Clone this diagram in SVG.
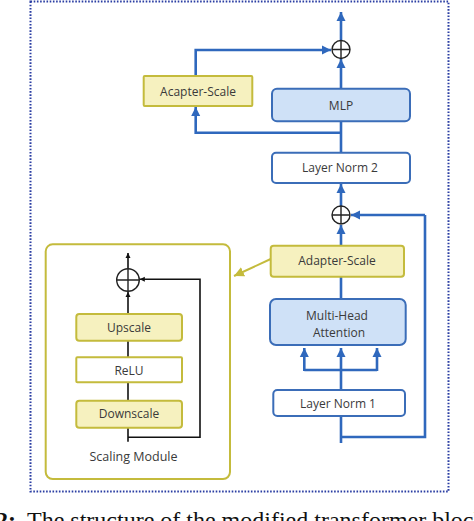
<svg xmlns="http://www.w3.org/2000/svg" width="474" height="521" viewBox="0 0 474 521">
<style>
.t{font-family:"Open Sans","Noto Sans",sans-serif;font-size:12px;fill:#3a3a3a;text-anchor:middle}
.blue{fill:#ffffff;stroke:#3b6db8;stroke-width:2}
.bluef{fill:#cfe1f7;stroke:#3b6db8;stroke-width:2}
.yel{fill:#f6f1bf;stroke:#c4bb3c;stroke-width:2}
.yelw{fill:#ffffff;stroke:#c4bb3c;stroke-width:2}
.bl{fill:none;stroke:#2f68bd;stroke-width:2.6}
.bk{fill:none;stroke:#111;stroke-width:1.6}
.plus{fill:#fff;stroke:#222;stroke-width:1.4}
.cap{font-family:"Liberation Serif",serif;font-size:24px;fill:#111}
</style>
<defs>
<marker id="ab" markerUnits="userSpaceOnUse" markerWidth="10" markerHeight="10" refX="9" refY="5" orient="auto"><path d="M0,0.5 L9,5 L0,9.5 z" fill="#2f68bd"/></marker>
<marker id="ak" markerUnits="userSpaceOnUse" markerWidth="6" markerHeight="6" refX="5" refY="3" orient="auto"><path d="M0,0.5 L5,3 L0,5.5 z" fill="#111"/></marker>
<marker id="ay" markerUnits="userSpaceOnUse" markerWidth="12" markerHeight="12" refX="10" refY="6" orient="auto"><path d="M0,1 L10,6 L0,11 z" fill="#c4bb3c"/></marker>
</defs>
<rect x="30.5" y="1.5" width="418" height="490" fill="none" stroke="#2b3ea3" stroke-width="2" stroke-dasharray="1.6 1.6"/>
<g id="connectors">
<path class="bl" d="M341,40 V12" marker-end="url(#ab)"/>
<path class="bl" d="M341,88.7 V59" marker-end="url(#ab)"/>
<path class="bl" d="M195.7,76 V50 H331" marker-end="url(#ab)"/>
<path class="bl" d="M341,132.7 H195.7 V107" marker-end="url(#ab)"/>
<path class="bl" d="M341,152.7 V121.3"/>
<path class="bl" d="M341,206 V184" marker-end="url(#ab)"/>
<path class="bl" d="M341,245.7 V225" marker-end="url(#ab)"/>
<path class="bl" d="M425,215 V437 H341"/>
<path class="bl" d="M425,215 H351" marker-end="url(#ab)"/>
<path class="bl" d="M341,299 V276.7"/>
<path class="bl" d="M341,443 V416"/>
<path class="bl" d="M341,390 V348" marker-end="url(#ab)"/>
<path class="bl" d="M304.3,370 H377"/>
<path class="bl" d="M304.3,371 V348" marker-end="url(#ab)"/>
<path class="bl" d="M377,371 V348" marker-end="url(#ab)"/>
<path d="M270.7,259 L234,276" fill="none" stroke="#c4bb3c" stroke-width="2" marker-end="url(#ay)"/>
</g>
<g id="plus-top"><circle class="plus" cx="341" cy="49.5" r="9"/><path class="plus" d="M332,49.5 H350 M341,40.5 V58.5"/></g>
<g id="plus-mid"><circle class="plus" cx="341" cy="215" r="9"/><path class="plus" d="M332,215 H350 M341,206 V224"/></g>
<g id="adapter-scale-top"><rect class="yel" x="143.7" y="76" width="108.6" height="30" rx="1"/><text class="t" x="198" y="95.5">Acapter-Scale</text></g>
<g id="mlp"><rect class="bluef" x="272" y="88.7" width="138" height="32.6" rx="5"/><text class="t" x="341" y="109.5">MLP</text></g>
<g id="layer-norm-2"><rect class="blue" x="272" y="152.7" width="138" height="30.3" rx="4"/><text class="t" x="340" y="172">Layer Norm 2</text></g>
<g id="adapter-scale"><rect class="yel" x="270.7" y="245.7" width="133.3" height="31" rx="3"/><text class="t" x="337" y="265">Adapter-Scale</text></g>
<g id="multi-head-attention"><rect class="bluef" x="270" y="299" width="135.7" height="46" rx="6"/><text class="t" x="337" y="320">Multi-Head</text><text class="t" x="339" y="336.5">Attention</text></g>
<g id="layer-norm-1"><rect class="blue" x="273.3" y="390" width="131.7" height="26" rx="4"/><text class="t" x="338" y="407.7">Layer Norm 1</text></g>
<g id="scaling-module">
<rect x="45.7" y="244.3" width="184.3" height="234.7" rx="7" fill="#fff" stroke="#c4bb3c" stroke-width="2"/>
<path class="bk" d="M128,441.7 V292" marker-end="url(#ak)"/>
<path class="bk" d="M128,437.3 H200 V279.3 H139.8" marker-end="url(#ak)"/>
<path class="bk" d="M128,268.7 V253" marker-end="url(#ak)"/>
<circle class="plus" cx="128" cy="280" r="11.3"/><path class="plus" d="M116.7,280 H139.3 M128,268.7 V291.3"/>
<g id="upscale"><rect class="yel" x="76.3" y="314" width="105.7" height="26.7" rx="3"/><text class="t" x="129" y="331.5">Upscale</text></g>
<g id="relu"><rect class="yelw" x="76.3" y="357.3" width="105.7" height="25" rx="1"/><text class="t" x="129" y="375">ReLU</text></g>
<g id="downscale"><rect class="yel" x="76.3" y="400.7" width="105.7" height="27" rx="3"/><text class="t" x="129" y="418">Downscale</text></g>
<text class="t" x="133.5" y="461" style="font-size:12.5px">Scaling Module</text>
</g>
<g id="caption"><text class="cap" y="528"><tspan x="-4" font-weight="bold">2:</tspan><tspan x="27">The structure of the modified transformer block</tspan></text></g>
</svg>
